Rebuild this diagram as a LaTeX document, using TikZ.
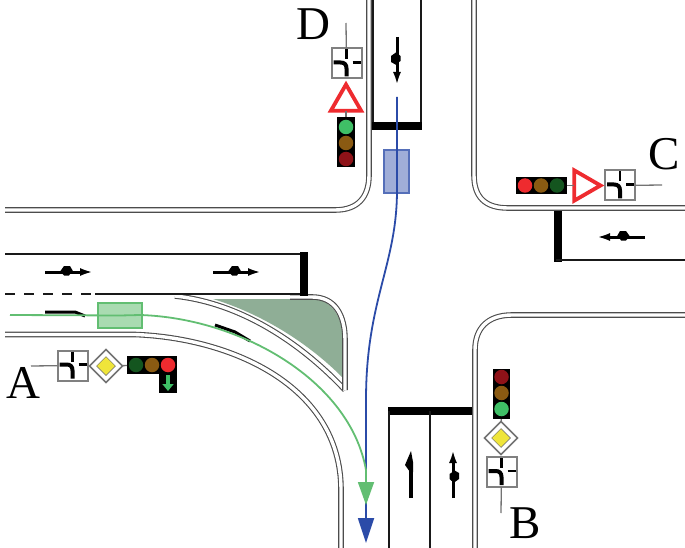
\documentclass[tikz,border=0pt]{standalone}
\usepackage{fontspec}
\setmainfont{Liberation Serif}
\usepackage{xcolor}
\usetikzlibrary{
  shapes.geometric, arrows.meta, positioning
}
\definecolor{pathgreen}{HTML}{62BE72}
\definecolor{pathblue}{HTML}{2B4BA8}
\definecolor{islandgreen}{HTML}{8FAE96}
\definecolor{lampred}{HTML}{EE2B2F}
\definecolor{lampdarkred}{HTML}{8E1218}
\definecolor{lampgreen}{HTML}{3FBF66}
\definecolor{lampdarkgreen}{HTML}{14551F}
\definecolor{lampbrown}{HTML}{8A5A12}
\definecolor{signyellow}{HTML}{EFE53A}

\begin{document}
\begin{tikzpicture}[
  x=1pt, y=-1pt,
  road/.style={draw=black!70, line width=1.1pt, double=white, double distance=3.4pt},
  laneline/.style={draw=black!90, line width=2.6pt},
  stopbar/.style={draw=black, line width=8pt},
  leader/.style={draw=black!55, line width=1.3pt},
  veh/.style={rectangle, minimum width=#1, inner sep=0pt, line width=1.2pt},
  signbox/.style={rectangle, minimum size=30pt, inner sep=0pt, outer sep=0pt,
                  draw=black!50, line width=2pt, fill=white},
  prio/.style={diamond, minimum size=33pt, inner sep=0pt, outer sep=0pt,
               draw=black!55, line width=1.5pt, fill=white},
  prioin/.style={diamond, minimum size=19pt, inner sep=0pt,
                 draw=black!60, line width=0.5pt, fill=signyellow},
  yield/.style={regular polygon, regular polygon sides=3, minimum size=35pt,
                inner sep=0pt, outer sep=0pt, draw=lampred, line width=3.8pt, fill=white},
  lightbox/.style={rectangle, fill=black, inner sep=0pt, outer sep=0pt},
  lamp/.style={circle, minimum size=14.5pt, inner sep=0pt},
  letter/.style={inner sep=0pt, font=\fontsize{47}{47}\selectfont},
  crossing/.pic={
    \draw[black, line width=4pt] (-13,-1) -- (-6,-1) .. controls (-2,-1) and (0,1) .. (0,5) -- (0,13);
    \draw[black, line width=2.2pt] (0,-14) -- (0,-4);
    \draw[black, line width=2.2pt] (6,-1) -- (14,-1);
  },
  lanemark/.pic={
    \draw[black, line width=3pt, -{Latex[length=13pt,width=8pt]}] (0,24) -- (0,-24);
    \fill[black] (-1,10) -- (6,5) -- (6,-1) -- (-1,-5) -- cycle;
    \fill[black] (1,9) -- (-3.5,5) -- (-3.5,0) -- (1,-3) -- cycle;
  },
  lanehook/.pic={
    \draw[black, line width=3.2pt] (0,24) -- (0,-8);
    \fill[black] (0,-23) -- (-6,-9) -- (-1,-2) -- (2,-2) -- (2,-12) -- cycle;
  }
]
\useasboundingbox (0,0) rectangle (685,548);

% road edges
\draw[road] (5,210) -- (335,210) .. controls (358,210) and (369,197) .. (369,175) -- (369,0);
\draw[road] (474,0) -- (474,175) .. controls (474,197) and (485,208) .. (508,208) -- (685,208);
\draw[road] (685,315) -- (512,315) .. controls (488,315) and (475,328) .. (475,350) -- (475,548);
\draw[road] (5,334.5) -- (135,334.5) .. controls (230,338) and (341,385) .. (341,490) -- (341,548);

% island
\fill[islandgreen] (213,299) -- (312,299) .. controls (330,299) and (342,315) .. (342,335)
  -- (342,377) .. controls (310,345) and (265,315) .. cycle;
\draw[road] (175,296) .. controls (240,303) and (300,342) .. (345,390);
\draw[road] (290,297) -- (312,297) .. controls (335,297) and (345,315) .. (345,340) -- (345,390);

% lane lines
\draw[laneline] (5,254) -- (305,254);
\draw[laneline] (95,294) -- (305,294);
\draw[laneline, dash pattern=on 10pt off 9pt] (5,294) -- (92,294);
\draw[stopbar] (304,252) -- (304,296);
\draw[laneline] (373,0) -- (373,126);
\draw[laneline] (421,0) -- (421,126);
\draw[stopbar] (372,126) -- (422,126);
\draw[stopbar] (558,211) -- (558,262);
\draw[laneline] (556,260) -- (685,260);
\draw[stopbar] (388,411) -- (472,411);
\draw[laneline] (389,411) -- (389,548);
\draw[laneline] (430,411) -- (430,548);

% lane marks
\pic[rotate=-90, xscale=-1] at (69,272) {lanemark};
\pic[rotate=-90, xscale=-1] at (237,272) {lanemark};
\pic[rotate=90] at (621,237) {lanemark};
\pic[rotate=180] at (397,61) {lanemark};
\pic at (453,474) {lanemark};
\pic at (411,474) {lanehook};
\draw[black, line width=3pt] (45,312) -- (75,312) -- (85,316);
\draw[black, line width=3pt] (215,325) -- (235,332) -- (250,341);

% vehicles
\node[veh=44pt, minimum height=25pt, draw=pathgreen, fill=pathgreen!55] (vehA) at (120,315.5) {};
\node[veh=25pt, minimum height=43pt, draw=pathblue!80, fill=pathblue!45] (vehD) at (396.5,171.5) {};

% paths
\coordinate (startA) at (10,315);
\coordinate (endA) at (366,505);
\coordinate (startD) at (397,97);
\coordinate (endD) at (366,543);
\draw[pathblue, line width=1.8pt, -{Triangle[length=25pt,width=16pt]}] (startD) -- (397,190)
  .. controls (397,265) and (366,300) .. (366,400) -- (endD);
\draw[pathgreen, line width=1.8pt, -{Triangle[length=23pt,width=16pt]}] (startA) -- (vehA.center) -- (140,315)
  .. controls (240,318) and (350,380) .. (366,470) -- (endA);

% signals A
\node[letter] (labelA) at (23,383) {A};
\coordinate (leadA) at (31,366);
\node[signbox] (signA) at (72.5,365.5) {};
\pic at (signA) {crossing};
\draw[leader] (leadA) -- (signA);
\node[prio] (prioA) at (106,366) {};
\node[prioin] at (prioA) {};
\node[lightbox, minimum width=50pt, minimum height=18pt] (lightA) at (152,365) {};
\node[lightbox, minimum width=18pt, minimum height=20pt] (turnA) at (168,383) {};
\draw[leader] (prioA) -- (lightA);
\foreach \x/\c in {136/lampdarkgreen, 152/lampbrown, 168/lampred} {
  \node[lamp, fill=\c] at (\x,365) {};
}
\draw[lampgreen, line width=3.5pt, -{Triangle[length=7pt,width=11pt]}] (168,375) -- (168,391);

% signals B
\node[letter] (labelB) at (525,523) {B};
\coordinate (leadB) at (501,513);
\node[signbox] (signB) at (501.5,472) {};
\pic at (signB) {crossing};
\draw[leader] (leadB) -- (signB);
\node[prio] (prioB) at (501,438) {};
\node[prioin] at (prioB) {};
\node[lightbox, minimum width=17pt, minimum height=50pt] (lightB) at (501.5,394) {};
\draw[leader] (prioB) -- (lightB);
\foreach \y/\c in {377/lampdarkred, 393/lampbrown, 409/lampgreen} {
  \node[lamp, fill=\c] at (501.5,\y) {};
}

% signals C
\node[letter] (labelC) at (664,154) {C};
\coordinate (leadC) at (662,185);
\node[signbox] (signC) at (620,185.5) {};
\pic at (signC) {crossing};
\draw[leader] (leadC) -- (signC);
\node[lightbox, minimum width=51pt, minimum height=17pt] (lightC) at (541.5,185.5) {};
\node[yield, shape border rotate=-90] (yieldC) at (583,185.5) {};
\draw[leader] (lightC) -- (yieldC);
\foreach \x/\c in {525/lampred, 541/lampbrown, 557/lampdarkgreen} {
  \node[lamp, fill=\c] at (\x,185.5) {};
}

% signals D
\node[letter] (labelD) at (313,24) {D};
\coordinate (leadD) at (346,23);
\node[signbox] (signD) at (346.5,63.5) {};
\pic at (signD) {crossing};
\draw[leader] (leadD) -- (signD);
\node[lightbox, minimum width=18pt, minimum height=50pt] (lightD) at (346,142) {};
\node[yield] (yieldD) at (346,102) {};
\draw[leader] (yieldD) -- (lightD);
\foreach \y/\c in {127/lampgreen, 143/lampbrown, 159/lampdarkred} {
  \node[lamp, fill=\c] at (346,\y) {};
}
\end{tikzpicture}
\end{document}
